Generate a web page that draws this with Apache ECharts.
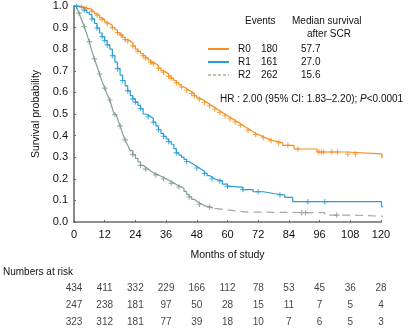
<!DOCTYPE html>
<html>
<head>
<meta charset="utf-8">
<script src="https://cdn.jsdelivr.net/npm/echarts@6/dist/echarts.min.js"></script>
<style>
  html, body { margin: 0; padding: 0; background: #fff; }
  #chart { width: 412px; height: 331px; }
</style>
</head>
<body>
<div id="chart"></div>
<script>
// tick labels / groups
const monthTicks = [0, 12, 24, 36, 48, 60, 72, 84, 96, 108, 120];
const groups = ['R0', 'R1', 'R2'];
const events = [180, 161, 262];
const medians = ['57.7', '27.0', '15.6'];

// numbers at risk (per month tick)
const riskR0 = [434, 411, 332, 229, 166, 112, 78, 53, 45, 36, 28];
const riskR1 = [247, 238, 181, 97, 50, 28, 15, 11, 7, 5, 4];
const riskR2 = [323, 312, 181, 77, 39, 18, 10, 7, 6, 5, 3];

// KM curves (time in months, survival after the step)
const r0Time = [0, 1, 2, 3, 4, 5, 6, 7, 8, 9, 10, 11, 12, 13, 14, 15, 16, 17, 18, 19, 20, 21, 22, 23, 24, 25, 26, 27, 28, 29, 30, 31, 32, 33, 34, 35, 36, 37, 38, 39, 40, 41, 42, 43, 44, 45, 46, 47, 48, 49, 50, 51, 52, 53, 54, 55, 56, 57, 58, 59, 60, 61, 62, 63, 64, 65, 66, 67, 68, 69, 70, 71, 72, 73, 74, 75, 76, 77, 78, 80, 81.6, 86, 95, 106.6, 120.3, 124.6];
const r0Surv = [1.0, 1.0, 0.997, 0.995, 0.99, 0.988, 0.985, 0.975, 0.965, 0.957, 0.945, 0.937, 0.925, 0.918, 0.91, 0.9, 0.89, 0.877, 0.865, 0.855, 0.845, 0.838, 0.83, 0.815, 0.80, 0.79, 0.78, 0.77, 0.76, 0.75, 0.74, 0.733, 0.725, 0.712, 0.70, 0.693, 0.685, 0.675, 0.665, 0.655, 0.645, 0.635, 0.625, 0.618, 0.61, 0.603, 0.595, 0.585, 0.575, 0.568, 0.56, 0.553, 0.545, 0.538, 0.53, 0.522, 0.515, 0.507, 0.50, 0.492, 0.485, 0.478, 0.47, 0.463, 0.455, 0.448, 0.44, 0.433, 0.425, 0.418, 0.41, 0.405, 0.40, 0.395, 0.39, 0.385, 0.38, 0.376, 0.372, 0.366, 0.355, 0.338, 0.324, 0.315, 0.30, 0.30];

const r1Time = [0, 1, 2, 3, 4, 5, 6, 7, 8, 9, 10, 11, 12, 13, 14, 15, 16, 17, 18, 19, 20, 21, 22, 23, 24, 25, 26, 27, 28, 29, 30, 31, 32, 33, 34, 35, 36, 37, 38, 39, 40, 41, 42, 43, 44, 45, 46, 47, 48, 49, 50, 51, 52, 53, 54, 55, 56, 58, 60, 62, 66, 70, 74, 78, 82.4, 85.5, 120.2, 124.6];
const r1Surv = [1.0, 0.998, 0.995, 0.99, 0.98, 0.97, 0.96, 0.94, 0.92, 0.898, 0.875, 0.858, 0.84, 0.82, 0.80, 0.77, 0.74, 0.71, 0.68, 0.655, 0.63, 0.607, 0.585, 0.57, 0.555, 0.54, 0.525, 0.50, 0.495, 0.487, 0.48, 0.462, 0.445, 0.427, 0.41, 0.397, 0.385, 0.372, 0.36, 0.34, 0.32, 0.31, 0.30, 0.29, 0.28, 0.272, 0.265, 0.257, 0.25, 0.242, 0.235, 0.225, 0.215, 0.207, 0.20, 0.195, 0.19, 0.175, 0.165, 0.16, 0.15, 0.14, 0.132, 0.125, 0.114, 0.094, 0.071, 0.071];

const r2Time = [0, 0.5, 1, 1.5, 2, 2.5, 3, 3.5, 4, 4.5, 5, 5.5, 6, 6.5, 7, 7.5, 8, 8.5, 9, 9.5, 10, 10.5, 11, 11.5, 12, 12.5, 13, 13.5, 14, 14.5, 15, 15.5, 16, 16.5, 17, 17.5, 18, 18.5, 19, 19.5, 20, 20.5, 21, 21.5, 22, 23, 24, 25, 26, 27, 28, 29, 30, 31, 32, 33, 34, 35, 36, 37, 38, 39, 40, 41, 42, 43, 44, 45, 46, 47, 48, 49, 50, 51, 52, 54, 56, 60, 64, 68, 98, 108.6, 124.6];
const r2Surv = [1.0, 0.997, 0.99, 0.98, 0.967, 0.95, 0.935, 0.92, 0.905, 0.888, 0.87, 0.852, 0.835, 0.812, 0.79, 0.772, 0.755, 0.737, 0.72, 0.703, 0.685, 0.667, 0.65, 0.635, 0.62, 0.605, 0.59, 0.578, 0.565, 0.545, 0.525, 0.505, 0.497, 0.49, 0.48, 0.462, 0.445, 0.428, 0.41, 0.395, 0.38, 0.367, 0.355, 0.342, 0.33, 0.312, 0.295, 0.278, 0.262, 0.253, 0.245, 0.236, 0.228, 0.223, 0.218, 0.212, 0.206, 0.20, 0.194, 0.187, 0.18, 0.174, 0.168, 0.162, 0.155, 0.142, 0.128, 0.116, 0.105, 0.096, 0.088, 0.082, 0.076, 0.072, 0.068, 0.062, 0.056, 0.05, 0.046, 0.043, 0.032, 0.025, 0.025];

// censoring times
const r0Cens = [3, 5, 7, 9, 11, 13, 15, 17, 18.5, 20, 21, 23, 25, 27, 28, 30, 31, 33, 35, 37, 38, 40, 42, 44, 46, 47, 49, 51, 53, 55, 57, 59, 61, 63, 65, 68, 71, 74, 77, 80, 83.6, 87.5, 95.7, 96.7, 97.6, 100.8, 103, 107, 110];
const r1Cens = [1, 4, 7, 9, 11, 12, 13, 15, 17, 19, 21, 23, 24, 26, 29, 31, 33, 35, 37, 40, 44, 48, 51, 54, 57, 60, 66, 72, 80.5, 91.4, 98];
const r2Cens = [2, 4, 6, 8, 10, 12, 14, 16, 18, 20, 23, 26, 28, 32, 35, 38, 41, 45, 49, 53, 89, 90.5, 102.7];

const colors = ['#f5901f', '#2a9dd8', '#86a092'];
const FONT = '"Liberation Sans", Arial, sans-serif';
const PLUS = 'path://M4,0H6V4H10V6H6V10H4V6H0V4H4Z';
const DASH_FROM = 55; // R2 drawn dashed after this month

const pairs = (t, s) => t.map((x, i) => [x, s[i]]);

function survAt(t, s, x) {
  let v = s[0];
  for (let i = 0; i < t.length; i++) {
    if (t[i] <= x) v = s[i];
  }
  return v;
}

function censorSeries(name, t, s, cens, color) {
  return {
    name: name + ' censored',
    type: 'scatter',
    symbol: PLUS,
    symbolSize: 5.5,
    clip: false,
    itemStyle: { color: color },
    data: cens.map((x) => [x, survAt(t, s, x)]),
    z: 3
  };
}

const r2All = pairs(r2Time, r2Surv);
const r2Solid = r2All.filter((p) => p[0] <= DASH_FROM);
const r2Dash = [[DASH_FROM, survAt(r2Time, r2Surv, DASH_FROM)]].concat(r2All.filter((p) => p[0] > DASH_FROM));

const riskRows = [riskR0, riskR1, riskR2];
const riskData = [];
riskRows.forEach((row, i) => {
  row.forEach((n, j) => riskData.push([monthTicks[j], groups[i], n]));
});

const chart = echarts.init(document.getElementById('chart'));

const option = {
  animation: false,
  textStyle: { fontFamily: FONT },
  grid: [
    { left: 74, right: 31, top: 6, bottom: 109 },
    { left: 74, right: 31, top: 279.5, height: 55.5 }
  ],
  xAxis: [
    {
      type: 'value',
      gridIndex: 0,
      min: 0,
      max: 120,
      interval: 12,
      name: 'Months of study',
      nameLocation: 'middle',
      nameGap: 28,
      nameTextStyle: { fontSize: 10.5, color: '#111', fontFamily: FONT },
      axisLine: { lineStyle: { color: '#6b6b6b', width: 1.6 } },
      axisTick: { inside: true, length: 2, lineStyle: { color: '#6b6b6b' } },
      axisLabel: { fontSize: 11, color: '#111', margin: 7, fontFamily: FONT },
      splitLine: { show: false }
    },
    {
      type: 'value',
      gridIndex: 1,
      min: 0,
      max: 120,
      show: false
    }
  ],
  yAxis: [
    {
      type: 'value',
      gridIndex: 0,
      min: 0,
      max: 1,
      interval: 0.1,
      name: 'Survival probability',
      nameLocation: 'middle',
      nameGap: 31,
      nameTextStyle: { fontSize: 10.5, color: '#111', fontFamily: FONT },
      axisLine: { show: true, lineStyle: { color: '#6b6b6b', width: 1.6 } },
      axisTick: { show: true, inside: true, length: 2, lineStyle: { color: '#6b6b6b' } },
      axisLabel: { fontSize: 11, color: '#111', margin: 6, fontFamily: FONT, formatter: (v) => v.toFixed(1) },
      splitLine: { show: false }
    },
    {
      type: 'category',
      gridIndex: 1,
      data: groups,
      inverse: true,
      show: false
    }
  ],
  legend: {
    orient: 'vertical',
    left: 202,
    top: 39,
    itemWidth: 21,
    itemHeight: 10,
    itemGap: 3,
    selectedMode: false,
    itemStyle: { opacity: 0 },
    data: [
      { name: 'R0' },
      { name: 'R1' },
      { name: 'R2', lineStyle: { type: [3, 2], width: 1.2, color: '#5f9a55' } }
    ],
    formatter: (name) => {
      const i = groups.indexOf(name);
      return '{a|' + name + '}{b|' + events[i] + '}{c|' + medians[i] + '}';
    },
    textStyle: {
      fontFamily: FONT,
      fontSize: 10,
      color: '#111',
      rich: {
        a: { width: 23, padding: [0, 0, 0, 4], fontSize: 10, fontFamily: FONT },
        b: { width: 40, fontSize: 10, fontFamily: FONT },
        c: { fontSize: 10, fontFamily: FONT }
      }
    }
  },
  graphic: [
    { type: 'text', left: 245, top: 16, style: { text: 'Events', font: '10px ' + FONT, fill: '#111' } },
    { type: 'text', left: 292, top: 16, style: { text: 'Median survival', font: '10px ' + FONT, fill: '#111' } },
    { type: 'text', left: 307, top: 29, style: { text: 'after SCR', font: '10px ' + FONT, fill: '#111' } },
    {
      type: 'text',
      left: 220,
      top: 94,
      style: {
        text: '{n|HR : 2.00 (95% CI: 1.83–2.20); }{p|P}{n|<0.0001}',
        rich: {
          n: { font: '10px ' + FONT, fill: '#111' },
          p: { font: 'italic 10px ' + FONT, fill: '#111' }
        }
      }
    },
    { type: 'text', left: 3, top: 267, style: { text: 'Numbers at risk', font: '10px ' + FONT, fill: '#111' } }
  ],
  series: [
    {
      name: 'R0',
      type: 'line',
      step: 'end',
      symbol: 'none',
      clip: false,
      color: colors[0],
      lineStyle: { width: 1.2, color: colors[0] },
      data: pairs(r0Time, r0Surv)
    },
    {
      name: 'R1',
      type: 'line',
      step: 'end',
      symbol: 'none',
      clip: false,
      color: colors[1],
      lineStyle: { width: 1.2, color: colors[1] },
      data: pairs(r1Time, r1Surv)
    },
    {
      name: 'R2',
      type: 'line',
      step: 'end',
      symbol: 'none',
      clip: false,
      color: colors[2],
      lineStyle: { width: 1.2, color: colors[2] },
      data: r2Solid
    },
    {
      name: 'R2 late',
      type: 'line',
      step: 'end',
      symbol: 'none',
      clip: false,
      color: colors[2],
      lineStyle: { width: 1.2, color: '#a3aaa8', type: [8, 5] },
      data: r2Dash
    },
    censorSeries('R0', r0Time, r0Surv, r0Cens, colors[0]),
    censorSeries('R1', r1Time, r1Surv, r1Cens, colors[1]),
    censorSeries('R2', r2Time, r2Surv, r2Cens, '#7f9a8b'),
    {
      name: 'at risk',
      type: 'scatter',
      xAxisIndex: 1,
      yAxisIndex: 1,
      symbolSize: 1,
      itemStyle: { color: 'rgba(0,0,0,0)' },
      label: {
        show: true,
        position: 'inside',
        fontSize: 10,
        fontFamily: FONT,
        color: '#111',
        formatter: (p) => String(p.value[2])
      },
      data: riskData
    }
  ]
};

chart.setOption(option);
</script>
</body>
</html>
